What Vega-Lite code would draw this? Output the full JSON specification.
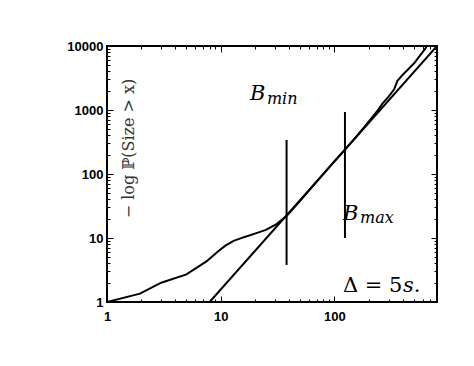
{
  "$schema": "https://vega.github.io/schema/vega-lite/v6.json",
  "width": 330,
  "height": 256,
  "autosize": "none",
  "padding": {"left": 107, "top": 46, "right": 37, "bottom": 64},
  "background": "white",
  "config": {
    "view": {"stroke": "black", "strokeWidth": 2},
    "axis": {
      "domain": false,
      "grid": false,
      "labelFont": "Liberation Sans",
      "labelFontWeight": "bold",
      "labelFontSize": 13,
      "labelColor": "black",
      "tickColor": "black",
      "tickWidth": 1,
      "labelFlush": false,
      "labelOverlap": false,
      "labelBound": false
    }
  },
  "datasets": {
    "curves": [
      {"x": 1, "y": 1, "series": "emp"},
      {"x": 1.95, "y": 1.35, "series": "emp"},
      {"x": 3, "y": 2.0, "series": "emp"},
      {"x": 5, "y": 2.7, "series": "emp"},
      {"x": 7.5, "y": 4.3, "series": "emp"},
      {"x": 9.4, "y": 6.1, "series": "emp"},
      {"x": 11, "y": 7.6, "series": "emp"},
      {"x": 13, "y": 9.0, "series": "emp"},
      {"x": 16, "y": 10.3, "series": "emp"},
      {"x": 20, "y": 11.7, "series": "emp"},
      {"x": 25, "y": 13.4, "series": "emp"},
      {"x": 31, "y": 16.5, "series": "emp"},
      {"x": 38, "y": 22, "series": "emp"},
      {"x": 50, "y": 38, "series": "emp"},
      {"x": 70, "y": 76, "series": "emp"},
      {"x": 100, "y": 157, "series": "emp"},
      {"x": 124, "y": 240, "series": "emp"},
      {"x": 150, "y": 355, "series": "emp"},
      {"x": 180, "y": 520, "series": "emp"},
      {"x": 215, "y": 770, "series": "emp"},
      {"x": 240, "y": 980, "series": "emp"},
      {"x": 265, "y": 1260, "series": "emp"},
      {"x": 300, "y": 1620, "series": "emp"},
      {"x": 336, "y": 2100, "series": "emp"},
      {"x": 359, "y": 2850, "series": "emp"},
      {"x": 398, "y": 3530, "series": "emp"},
      {"x": 440, "y": 4220, "series": "emp"},
      {"x": 503, "y": 5370, "series": "emp"},
      {"x": 633, "y": 9150, "series": "emp"},
      {"x": 665, "y": 10700, "series": "emp"},
      {"x": 8, "y": 1, "series": "fit"},
      {"x": 800, "y": 10000, "series": "fit"}
    ],
    "bars": [
      {"x": 38, "y": 3.8, "y2": 340},
      {"x": 124, "y": 10, "y2": 930}
    ],
    "labels": [
      {"x": 18.1, "y": 1432, "text": "B", "role": "big"},
      {"x": 119, "y": 19.1, "text": "B", "role": "big"},
      {"x": 401, "y": 1.449, "text": "s.", "role": "big"},
      {"x": 25.5, "y": 1219, "text": "min", "role": "sub"},
      {"x": 168, "y": 17.1, "text": "max", "role": "sub"},
      {"x": 119, "y": 1.449, "text": "Δ = 5", "role": "upright"}
    ]
  },
  "layer": [
    {
      "data": {"name": "curves"},
      "mark": {"type": "line", "color": "black", "strokeWidth": 2, "clip": true},
      "encoding": {
        "x": {
          "field": "x", "type": "quantitative",
          "scale": {"type": "log", "domain": [1, 800], "nice": false},
          "axis": {
            "orient": "bottom", "title": null,
            "values": [1,2,3,4,5,6,7,8,9,10,20,30,40,50,60,70,80,90,100,200,300,400,500,600,700,800],
            "labelExpr": "indexof([1,10,100,1000,10000], datum.value) >= 0 ? format(datum.value, 'd') : ''",
            "tickSize": {"condition": {"test": "indexof([1,10,100,1000,10000], datum.value) >= 0", "value": -6}, "value": -3},
            "labelPadding": 14
          }
        },
        "y": {
          "field": "y", "type": "quantitative",
          "scale": {"type": "log", "domain": [1, 10000], "nice": false},
          "axis": {
            "orient": "left",
            "values": [1,2,3,4,5,6,7,8,9,10,20,30,40,50,60,70,80,90,100,200,300,400,500,600,700,800,900,1000,2000,3000,4000,5000,6000,7000,8000,9000,10000],
            "labelExpr": "indexof([1,10,100,1000,10000], datum.value) >= 0 ? format(datum.value, 'd') : ''",
            "tickSize": {"condition": {"test": "indexof([1,10,100,1000,10000], datum.value) >= 0", "value": -6}, "value": -3},
            "labelPadding": 10,
            "title": "− log ℙ(Size > x)",
            "titleFont": "DejaVu Serif",
            "titleFontWeight": "normal",
            "titleFontSize": 16,
            "titleColor": "#333",
            "titleAngle": -90,
            "titleX": 26,
            "titleY": 102,
            "titleAlign": "center",
            "titleBaseline": "alphabetic"
          }
        },
        "detail": {"field": "series"}
      }
    },
    {
      "data": {"name": "bars"},
      "mark": {"type": "rule", "color": "black", "strokeWidth": 2},
      "encoding": {
        "x": {
          "field": "x", "type": "quantitative",
          "axis": {
            "orient": "top", "title": null, "labels": false,
            "values": [1,2,3,4,5,6,7,8,9,10,20,30,40,50,60,70,80,90,100,200,300,400,500,600,700,800],
            "tickSize": {"condition": {"test": "indexof([1,10,100,1000,10000], datum.value) >= 0", "value": -6}, "value": -3}
          }
        },
        "y": {
          "field": "y", "type": "quantitative",
          "axis": {
            "orient": "right", "title": null, "labels": false,
            "values": [1,2,3,4,5,6,7,8,9,10,20,30,40,50,60,70,80,90,100,200,300,400,500,600,700,800,900,1000,2000,3000,4000,5000,6000,7000,8000,9000,10000],
            "tickSize": {"condition": {"test": "indexof([1,10,100,1000,10000], datum.value) >= 0", "value": -6}, "value": -3}
          }
        },
        "y2": {"field": "y2"}
      }
    },
    {
      "data": {"name": "labels"},
      "transform": [{"filter": "datum.role == 'big'"}],
      "mark": {"type": "text", "font": "DejaVu Serif", "fontStyle": "italic", "fontSize": 21, "align": "left", "baseline": "alphabetic", "color": "black"},
      "encoding": {
        "x": {"field": "x", "type": "quantitative", "axis": null},
        "y": {"field": "y", "type": "quantitative", "axis": null},
        "text": {"field": "text"}
      }
    },
    {
      "data": {"name": "labels"},
      "transform": [{"filter": "datum.role == 'sub'"}],
      "mark": {"type": "text", "font": "DejaVu Serif", "fontStyle": "italic", "fontSize": 16, "align": "left", "baseline": "alphabetic", "color": "black"},
      "encoding": {
        "x": {"field": "x", "type": "quantitative", "axis": null},
        "y": {"field": "y", "type": "quantitative", "axis": null},
        "text": {"field": "text"}
      }
    },
    {
      "data": {"name": "labels"},
      "transform": [{"filter": "datum.role == 'upright'"}],
      "mark": {"type": "text", "font": "DejaVu Serif", "fontSize": 21, "align": "left", "baseline": "alphabetic", "color": "black"},
      "encoding": {
        "x": {"field": "x", "type": "quantitative", "axis": null},
        "y": {"field": "y", "type": "quantitative", "axis": null},
        "text": {"field": "text"}
      }
    }
  ]
}
